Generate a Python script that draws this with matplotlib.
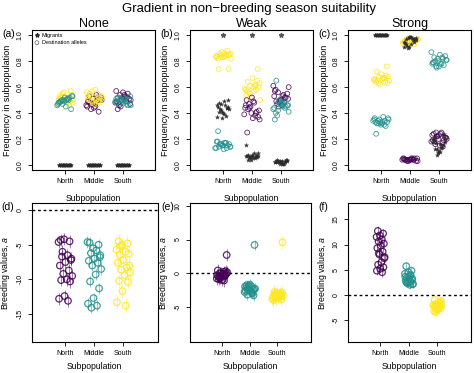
import numpy as np
import matplotlib
matplotlib.use("Agg")
import matplotlib.pyplot as plt

plt.rcParams['font.family'] = ['Liberation Sans', 'DejaVu Sans']
plt.rcParams['mathtext.fontset'] = 'custom'
plt.rcParams['mathtext.rm'] = 'Liberation Sans'
plt.rcParams['mathtext.it'] = 'Liberation Sans:italic'

### DATOS ###
subpops = ["North", "Middle", "South"]
PURPLE, TEAL, YELLOW = "#440154", "#21908C", "#FDE725"
pop_colors = [PURPLE, TEAL, YELLOW]

# panel (a): frecuencias, sin gradiente
a_mig = [[0.0] * 20, [0.0] * 20, [0.0] * 20]
a_alleles = {
    ("North", YELLOW): [0.50, 0.52, 0.55, 0.48, 0.51, 0.53, 0.49, 0.56, 0.47, 0.50,
                        0.52, 0.54, 0.49, 0.51, 0.46, 0.53, 0.50, 0.48, 0.52, 0.57],
    ("North", TEAL): [0.49, 0.47, 0.51, 0.50, 0.53, 0.45, 0.48, 0.52, 0.50, 0.46,
                      0.51, 0.49, 0.43, 0.52, 0.48, 0.50, 0.47, 0.53, 0.50, 0.49],
    ("Middle", PURPLE): [0.48, 0.45, 0.50, 0.43, 0.52, 0.47, 0.49, 0.41, 0.51, 0.46,
                         0.54, 0.48, 0.50, 0.44, 0.49, 0.52, 0.47, 0.50, 0.45, 0.53],
    ("Middle", YELLOW): [0.51, 0.55, 0.49, 0.53, 0.58, 0.50, 0.52, 0.48, 0.56, 0.51,
                         0.54, 0.50, 0.47, 0.53, 0.49, 0.57, 0.52, 0.50, 0.55, 0.48],
    ("South", PURPLE): [0.52, 0.57, 0.49, 0.54, 0.47, 0.51, 0.43, 0.55, 0.50, 0.48,
                        0.53, 0.46, 0.51, 0.56, 0.49, 0.52, 0.45, 0.50, 0.54, 0.48],
    ("South", TEAL): [0.49, 0.51, 0.47, 0.50, 0.53, 0.48, 0.52, 0.46, 0.50, 0.49,
                      0.51, 0.47, 0.50, 0.52, 0.48, 0.49, 0.51, 0.46, 0.50, 0.52],
}

# panel (b): gradiente debil
b_mig = [[0.42, 0.45, 0.39, 0.48, 0.44, 0.41, 0.37, 0.46, 0.43, 0.50,
          0.40, 0.45, 0.38, 0.47, 0.43, 0.49, 0.41, 0.44, 0.36, 0.46],
         [0.06, 0.07, 0.05, 0.08, 0.06, 0.04, 0.07, 0.09, 0.05, 0.06,
          0.08, 0.07, 0.05, 0.06, 0.09, 0.07, 0.04, 0.08, 0.06, 0.15],
         [0.02, 0.03, 0.01, 0.04, 0.02, 0.03, 0.02, 0.01, 0.03, 0.04,
          0.02, 0.03, 0.01, 0.02, 0.04, 0.03, 0.02, 0.03, 0.01, 0.02]]
b_top = [1.0, 1.0, 1.0]
b_alleles = {
    ("North", YELLOW): [0.84, 0.85, 0.83, 0.86, 0.84, 0.82, 0.85, 0.87, 0.83, 0.84,
                        0.86, 0.85, 0.83, 0.84, 0.88, 0.85, 0.82, 0.86, 0.74, 0.74],
    ("North", TEAL): [0.15, 0.13, 0.17, 0.16, 0.14, 0.12, 0.18, 0.15, 0.16, 0.13,
                      0.17, 0.14, 0.16, 0.15, 0.18, 0.13, 0.16, 0.14, 0.17, 0.26],
    ("Middle", YELLOW): [0.58, 0.61, 0.55, 0.63, 0.60, 0.57, 0.65, 0.52, 0.59, 0.62,
                         0.56, 0.60, 0.67, 0.54, 0.58, 0.61, 0.50, 0.57, 0.64, 0.74],
    ("Middle", PURPLE): [0.40, 0.44, 0.38, 0.47, 0.42, 0.36, 0.50, 0.41, 0.45, 0.39,
                         0.48, 0.43, 0.37, 0.52, 0.46, 0.40, 0.44, 0.35, 0.49, 0.25],
    ("South", PURPLE): [0.50, 0.53, 0.48, 0.56, 0.51, 0.46, 0.58, 0.52, 0.49, 0.61,
                        0.54, 0.47, 0.55, 0.50, 0.57, 0.52, 0.45, 0.60, 0.53, 0.49],
    ("South", TEAL): [0.47, 0.44, 0.49, 0.42, 0.46, 0.48, 0.40, 0.45, 0.50, 0.43,
                      0.47, 0.38, 0.46, 0.48, 0.35, 0.44, 0.49, 0.41, 0.45, 0.65],
}

# panel (c): gradiente fuerte
c_mig = [[1.0] * 20,
         [0.98, 0.96, 0.99, 0.93, 0.97, 0.91, 0.95, 0.98, 0.92, 0.97,
          0.99, 0.94, 0.96, 0.90, 0.98, 0.93, 0.97, 0.95, 0.99, 0.91],
         [0.12, 0.18, 0.10, 0.22, 0.15, 0.09, 0.20, 0.13, 0.17, 0.24,
          0.11, 0.19, 0.14, 0.08, 0.21, 0.16, 0.12, 0.23, 0.10, 0.18]]
c_alleles = {
    ("North", YELLOW): [0.65, 0.67, 0.63, 0.68, 0.66, 0.64, 0.69, 0.62, 0.66, 0.67,
                        0.65, 0.63, 0.70, 0.66, 0.64, 0.68, 0.65, 0.67, 0.72, 0.76],
    ("North", TEAL): [0.33, 0.35, 0.31, 0.34, 0.36, 0.32, 0.33, 0.30, 0.35, 0.34,
                      0.37, 0.32, 0.33, 0.31, 0.36, 0.34, 0.32, 0.35, 0.33, 0.24],
    ("Middle", YELLOW): [0.95, 0.96, 0.94, 0.97, 0.95, 0.93, 0.96, 0.98, 0.94, 0.95,
                         0.97, 0.96, 0.94, 0.95, 0.93, 0.96, 0.97, 0.95, 0.94, 0.96],
    ("Middle", PURPLE): [0.04, 0.05, 0.04, 0.03, 0.05, 0.04, 0.04, 0.05, 0.03, 0.04,
                         0.05, 0.04, 0.03, 0.04, 0.05, 0.04, 0.04, 0.03, 0.05, 0.04],
    ("South", TEAL): [0.80, 0.78, 0.83, 0.76, 0.81, 0.85, 0.79, 0.77, 0.82, 0.87,
                      0.78, 0.80, 0.84, 0.76, 0.79, 0.82, 0.75, 0.81, 0.78, 0.83],
    ("South", PURPLE): [0.20, 0.23, 0.17, 0.25, 0.21, 0.15, 0.24, 0.19, 0.22, 0.18,
                        0.25, 0.16, 0.21, 0.23, 0.19, 0.14, 0.22, 0.20, 0.24, 0.18],
}

# paneles (d)-(f): valores de cria (North, Middle, South)
d_bv = [[-4.3, -4.5, -4.2, -4.6, -6.5, -6.7, -7.2, -7.5, -8.0, -8.7,
         -9.2, -9.5, -10.0, -10.1, -10.3, -12.4, -12.8, -13.1, -6.0, -7.0],
        [-4.7, -5.0, -5.5, -4.6, -5.8, -6.2, -6.8, -7.0, -7.3, -7.6,
         -8.0, -8.5, -9.3, -10.3, -11.3, -12.7, -13.5, -13.8, -14.1, -6.5],
        [-4.5, -4.8, -5.0, -5.7, -6.0, -6.5, -6.3, -7.2, -7.6, -8.3,
         -8.6, -9.0, -9.4, -10.2, -10.4, -11.7, -13.3, -13.8, -5.2, -8.0]]
e_bv = [[-0.5, -0.3, 0.0, -0.8, 0.2, -0.6, -0.1, -1.0, 0.4, -0.4,
         -0.7, 0.1, -0.2, -0.9, 0.3, -0.5, -0.3, -1.1, 0.0, 2.7],
        [-2.2, -2.5, -1.9, -2.8, -2.0, -3.2, -2.4, -1.7, -2.6, -3.0,
         -2.1, -2.3, -2.7, -1.8, -3.3, -2.5, -2.0, -2.9, -2.4, 4.2],
        [-3.3, -3.5, -3.0, -3.8, -3.2, -3.6, -2.9, -3.4, -4.0, -3.1,
         -3.7, -3.3, -3.5, -2.8, -3.9, -3.2, -3.6, -3.4, -3.0, 4.6]]
f_bv = [[12.7, 12.2, 11.8, 11.5, 11.0, 10.6, 10.2, 9.8, 9.3, 8.6,
         8.0, 7.5, 6.5, 6.0, 5.5, 5.2, 4.8, 4.5, 8.3, 7.3],
        [5.7, 4.8, 4.5, 4.2, 3.8, 3.5, 3.2, 3.0, 2.8, 2.6,
         2.4, 2.2, 2.0, 2.5, 3.0, 2.7, 3.6, 4.0, 2.3, 2.1],
        [-1.0, -1.5, -1.8, -2.0, -2.2, -2.5, -2.7, -3.0, -3.2, -2.4,
         -1.9, -2.1, -2.6, -2.3, -1.7, -2.8, -2.0, -2.4, -3.4, -1.2]]
bv_err = [0.9, 0.8, 1.0]


### FUNCIONES ###
def jit(n, w, phase=0.0):
    # desplazamiento horizontal determinista (tipo jitter)
    k = (np.arange(n) * 0.6180339887 + phase) % 1.0
    return (k - 0.5) * 2 * w


def style_axis(ax, ylim, yticks, fmt, xlim):
    ax.set_xlim(*xlim)
    ax.set_ylim(*ylim)
    ax.set_xticks([1, 2, 3])
    ax.set_xticklabels(subpops, fontsize=5)
    ax.set_yticks(yticks)
    ax.set_yticklabels([fmt.format(v) for v in yticks], fontsize=5,
                       rotation=90, va="center")
    ax.tick_params(direction="out", length=3, width=0.6, pad=3)
    for s in ax.spines.values():
        s.set_linewidth(0.8)


def top_panel(ax, mig, alleles, top=None):
    for (pop, col), vals in alleles.items():
        i = subpops.index(pop) + 1
        ax.scatter(i + jit(len(vals), 0.28, 0.1 if col == YELLOW else 0.45), vals,
                   s=12, facecolors="none", edgecolors=col, linewidths=0.6, alpha=0.85)
    for i, vals in enumerate(mig):
        ax.scatter(i + 1 + jit(len(vals), 0.22, 0.3), vals, s=10, marker="*",
                   color="#2a2a2a", linewidths=0.2, zorder=3)
    if top is not None:
        ax.scatter([1, 2, 3], top, s=9, marker="*", color="#555555", zorder=3)
    style_axis(ax, (-0.04, 1.04), [0, 0.2, 0.4, 0.6, 0.8, 1.0], "{:.1f}", (-0.14, 4.1))
    ax.set_ylabel("Frequency in subpopulation", fontsize=6.5, labelpad=3)
    ax.set_xlabel("Subpopulation", fontsize=6.2, labelpad=6)


def bottom_panel(ax, bv, w, ylim, yticks):
    ax.axhline(0, color="black", lw=1.0, ls=(0, (2, 2)), zorder=1)
    for i, vals in enumerate(bv):
        x = i + 1 + jit(len(vals), w, 0.2)
        ax.errorbar(x, vals, yerr=bv_err[i], fmt="none", ecolor=pop_colors[i],
                    elinewidth=0.7, alpha=0.5, zorder=2)
        ax.scatter(x, vals, s=22, facecolors="none", edgecolors=pop_colors[i],
                   linewidths=0.9, alpha=0.85, zorder=3)
    style_axis(ax, ylim, yticks, "{:g}", (-0.14, 4.2))
    ax.set_ylabel("Breeding values, $a$", fontsize=6.3, labelpad=3)
    ax.set_xlabel("Subpopulation", fontsize=6.2, labelpad=3.5)


### FIGURA ###
fig = plt.figure(figsize=(4.74, 3.73), dpi=100)
lefts = [0.0675, 0.4008, 0.7342]
axs_top = [fig.add_axes([l, 0.544, 0.26, 0.3753]) for l in lefts]
widths_bot = [0.265, 0.255, 0.26]
axs_bot = [fig.add_axes([l, 0.084, w, 0.371]) for l, w in zip(lefts, widths_bot)]

top_panel(axs_top[0], a_mig, a_alleles)
top_panel(axs_top[1], b_mig, b_alleles, b_top)
top_panel(axs_top[2], c_mig, c_alleles)

bottom_panel(axs_bot[0], d_bv, 0.25, (-19, 1), [0, -5, -10, -15])
bottom_panel(axs_bot[1], e_bv, 0.2, (-10.2, 10.4), [-5, 0, 5, 10])
bottom_panel(axs_bot[2], f_bv, 0.15, (-9.3, 18.2), [-5, 0, 5, 10, 15])

for ax, t in zip(axs_top, ["None", "Weak", "Strong"]):
    ax.set_title(t, fontsize=9, pad=2)
fig.text(0.525, 0.975, "Gradient in non\u2212breeding season suitability",
         ha="center", va="center", fontsize=9.5)

for ax, lab in zip(axs_top + axs_bot, ["(a)", "(b)", "(c)", "(d)", "(e)", "(f)"]):
    ax.text(-0.24, 0.97, lab, transform=ax.transAxes, fontsize=7.5,
            ha="left", va="center")

# leyenda del panel (a)
ax = axs_top[0]
ax.scatter([0.04], [0.965], transform=ax.transAxes, s=7, marker="*", color="#2a2a2a")
ax.text(0.08, 0.965, "Migrants", transform=ax.transAxes, fontsize=4, va="center")
ax.scatter([0.04], [0.91], transform=ax.transAxes, s=8, facecolors="none",
           edgecolors="#666666", linewidths=0.5)
ax.text(0.08, 0.91, "Destination alleles", transform=ax.transAxes, fontsize=4, va="center")

fig.savefig("out.png", dpi=100)
